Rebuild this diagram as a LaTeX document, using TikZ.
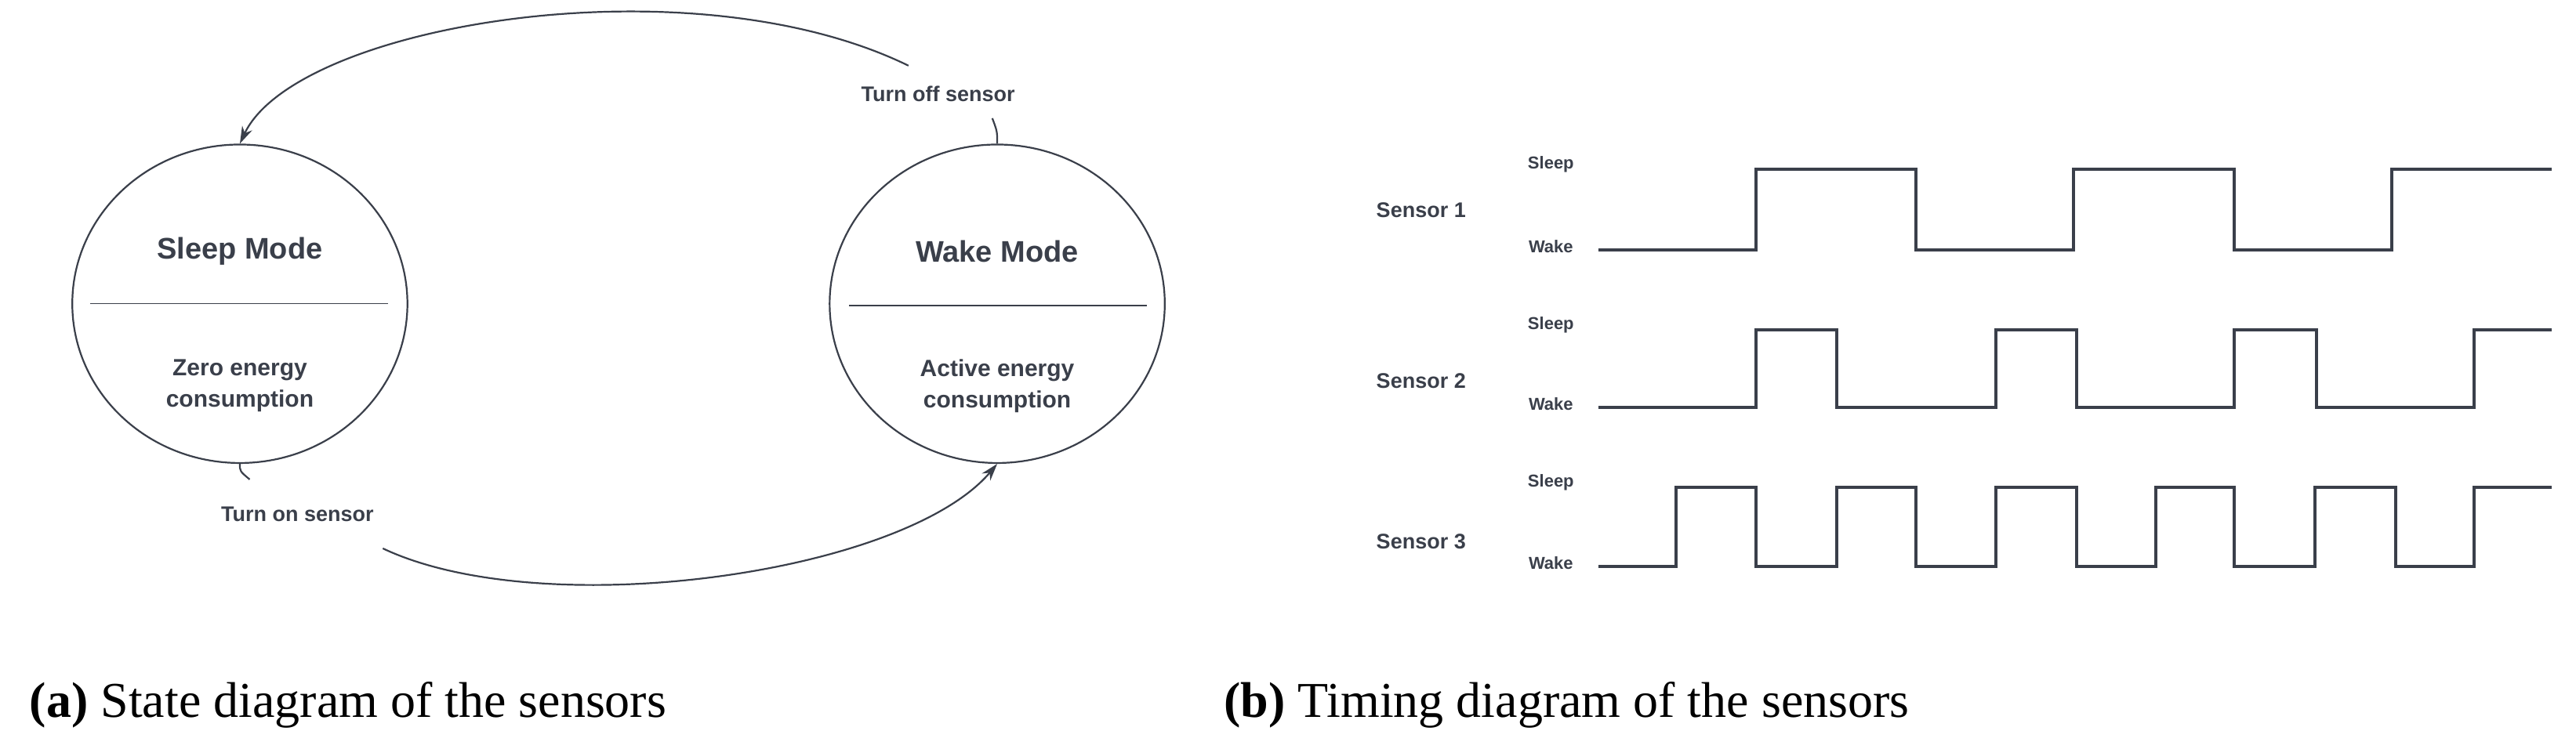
\documentclass[tikz,border=0pt]{standalone}
\usepackage{fontspec}
\setmainfont{Liberation Serif}
\newfontfamily\lbl{Liberation Sans}
\usetikzlibrary{shapes.geometric,arrows.meta}
\definecolor{ink}{HTML}{3A3F4A}
\begin{document}
\begin{tikzpicture}[x=2.0957pt,y=-2.0957pt,
  state/.style={draw=ink,line width=2.2pt,ellipse,minimum width=427.5pt,minimum height=406.5pt,inner sep=0pt},
  title/.style={text=ink,font=\lbl\bfseries\fontsize{38}{44}\selectfont},
  body/.style={text=ink,font=\lbl\bfseries\fontsize{30}{40}\selectfont,align=center},
  small/.style={text=ink,font=\lbl\bfseries\fontsize{27}{32}\selectfont},
  tiny/.style={text=ink,font=\lbl\bfseries\fontsize{22}{26}\selectfont},
  conn/.style={draw=ink,line width=2.2pt},
  wave/.style={draw=ink,line width=4pt,line join=miter},
  captext/.style={font=\fontsize{64}{70}\selectfont,anchor=base west,inner sep=0pt}]
\useasboundingbox (0,0) rectangle (1568,456);
% states
\node[state] (sleep) at (146,185) {};
\node[state] (wake) at (607,185) {};
\draw[ink,line width=1.5pt] (55,185) -- (236,185);
\draw[ink,line width=1.5pt] (517,186) -- (698,186);
\node[title] (st) at (146,153) {Sleep Mode};
\node[body] (sb) at (146,235) {Zero energy\\consumption};
\node[title] (wt) at (607,153) {Wake Mode};
\node[body] (wb) at (607,235) {Active energy\\consumption};
% transitions
\node[small] (off) at (571,57) {Turn off sensor};
\node[small] (on) at (181,313) {Turn on sensor};
\coordinate (offA) at (553,40);
\coordinate (onB) at (233,334);
\draw[conn] (wake.north) .. controls (607,80) .. (604,72);
\draw[conn,-{Stealth[length=22pt,width=14pt]}] (offA) .. controls (420,-25) and (180,15) .. (sleep.north);
\draw[conn] (sleep.south) .. controls (146,287) .. (152,292);
\draw[conn,-{Stealth[length=22pt,width=14pt]}] (onB) .. controls (330,380) and (550,350) .. (wake.south);
% timing
\foreach \n/\y in {1/128,2/232,3/330}{
  \node[small] (s\n) at (865,\y) {Sensor \n};
}
\foreach \n/\hi/\lo in {1/103/152,2/201/248,3/297/345}{
  \node[tiny] (sl\n) at (944,\hi-3) {Sleep};
  \node[tiny] (wk\n) at (944,\lo-2) {Wake};
}
\draw[wave] (973,152) -| (1069,103) -| (1166,152) -| (1262,103) -| (1360,152) -| (1456,103) -- (1553,103);
\draw[wave] (973,248) -| (1069,201) -| (1118,248) -| (1215,201) -| (1264,248) -| (1360,201) -| (1410,248) -| (1506,201) -- (1553,201);
\draw[wave] (973,345) -| (1020,297) -| (1069,345) -| (1118,297) -| (1166,345) -| (1215,297) -| (1264,345) -| (1312,297) -| (1360,345) -| (1409,297) -| (1458,345) -| (1506,297) -- (1553,297);
% captions
\node[captext] (ca) at (18,437) {\textbf{(a)} State diagram of the sensors};
\node[captext] (cb) at (745,437) {\textbf{(b)} Timing diagram of the sensors};
\end{tikzpicture}
\end{document}
